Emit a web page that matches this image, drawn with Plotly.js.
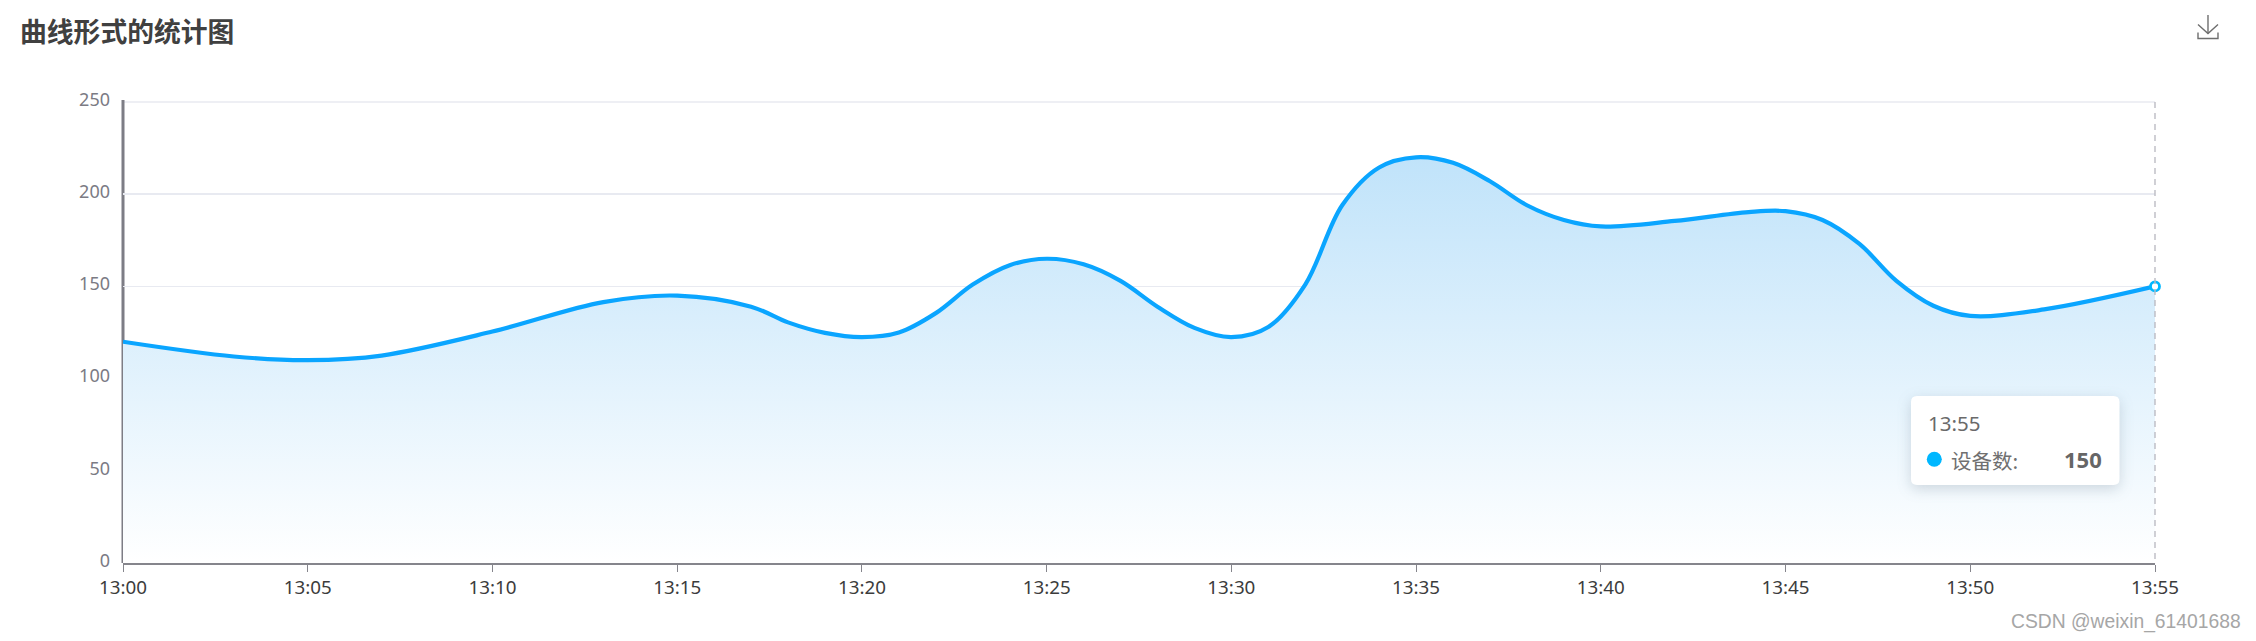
<!DOCTYPE html>
<html><head><meta charset="utf-8">
<script src="https://cdn.plot.ly/plotly-3.0.1.min.js"></script>
<style>html,body{margin:0;padding:0;background:#fff}#chart{width:2256px;height:641px}</style>
</head><body><div id="chart"></div>
<script>
const minutes = ["13:00","13:01","13:02","13:03","13:04","13:05","13:06","13:07","13:08","13:09","13:10","13:11","13:12","13:13","13:14","13:15","13:16","13:17","13:18","13:19","13:20","13:21","13:22","13:23","13:24","13:25","13:26","13:27","13:28","13:29","13:30","13:31","13:32","13:33","13:34","13:35","13:36","13:37","13:38","13:39","13:40","13:41","13:42","13:43","13:44","13:45","13:46","13:47","13:48","13:49","13:50","13:51","13:52","13:53","13:54","13:55"];
const readTimes = ["13:00","13:03","13:05","13:07","13:10","13:13","13:15","13:17","13:18","13:19","13:20","13:21","13:22","13:23","13:24","13:25","13:26","13:27","13:28","13:29","13:30","13:31","13:32","13:33","13:34","13:35","13:36","13:37","13:38","13:39","13:40","13:42","13:44","13:45","13:46","13:47","13:48","13:49","13:50","13:52","13:55"];
const devices = [120,112,110,112.5,125.5,141.5,145,139,130.5,124.8,122.5,125,135.5,151,161.5,165,162,153,139,127.5,122.5,128,151,194,214.5,220,217,207,194,186,182.5,185.5,190.3,190.8,186,173,153,139.5,134,137.5,150];
const xTicks = ["13:00","13:05","13:10","13:15","13:20","13:25","13:30","13:35","13:40","13:45","13:50","13:55"];
const yTicks = [0,50,100,150,200,250];
const chartTitle = "曲线形式的统计图";
const seriesName = "设备数:";
const hovered = {label:"13:55", value:150};
const watermark = "CSDN @weixin_61401688";

const W=2256,H=641,FONT='"Noto Sans","Noto Sans CJK SC",sans-serif';
const mL=123,mR=101,mT=102,mB=78;
const PW=W-mL-mR,PH=H-mT-mB;
const px=x=>(x-mL)/PW, py=y=>(H-mB-y)/PH;
const pathOf=pts=>pts.map((p,i)=>(i?'L':'M')+px(p[0]).toFixed(5)+','+py(p[1]).toFixed(5)).join(' ');
const paperLine={xref:'paper',yref:'paper',type:'path',layer:'above',line:{color:'#6e6e6e',width:1.4}};
const bx0=1911,bx1=2119.5,by0=396,by1=485,r=6;
function roundBox(){
  const kx=v=>px(v).toFixed(5),ky=v=>py(v).toFixed(5);
  return `M${kx(bx0+r)},${ky(by0)} L${kx(bx1-r)},${ky(by0)} Q${kx(bx1)},${ky(by0)} ${kx(bx1)},${ky(by0+r)} L${kx(bx1)},${ky(by1-r)} Q${kx(bx1)},${ky(by1)} ${kx(bx1-r)},${ky(by1)} L${kx(bx0+r)},${ky(by1)} Q${kx(bx0)},${ky(by1)} ${kx(bx0)},${ky(by1-r)} L${kx(bx0)},${ky(by0+r)} Q${kx(bx0)},${ky(by0)} ${kx(bx0+r)},${ky(by0)} Z`;
}
const lastIdx=minutes.length-1;
const traces=[
 {type:'scatter',mode:'lines',x:readTimes,y:devices,name:seriesName,
  line:{color:'#0aa5ff',width:4.2,shape:'spline',smoothing:1},
  fill:'tozeroy',fillgradient:{type:'vertical',start:0,stop:220,colorscale:[[0,'rgb(255,255,255)'],[1,'rgb(192,227,250)']]},
  hoverinfo:'skip',cliponaxis:false},
 {type:'scatter',mode:'markers',x:[hovered.label],y:[hovered.value],
  marker:{size:9,color:'#ffffff',line:{color:'#00b7ff',width:2.8}},hoverinfo:'skip',cliponaxis:false}
];
const layout={
 width:W,height:H,paper_bgcolor:'#fff',plot_bgcolor:'rgba(0,0,0,0)',showlegend:false,hovermode:false,
 margin:{l:mL,r:mR,t:mT,b:mB,pad:0},
 font:{family:FONT},
 xaxis:{type:'category',categoryorder:'array',categoryarray:minutes,range:[0,lastIdx],tickmode:'array',tickvals:xTicks,ticktext:xTicks,
  showgrid:false,zeroline:false,showline:true,linecolor:'#85858c',linewidth:1.5,ticks:'outside',ticklen:7,tickcolor:'#85858c',tickwidth:1,
  tickfont:{size:18.8,color:'#3c3c3c',family:FONT},tickangle:0,fixedrange:true},
 yaxis:{range:[0,250],tickmode:'array',tickvals:yTicks,showgrid:true,gridcolor:'#e8eaf1',gridwidth:1.5,zeroline:false,showline:false,ticks:'',
  ticklabelstandoff:12,tickfont:{size:18,color:'#7b7b84',family:FONT},fixedrange:true},
 shapes:[
  {type:'line',layer:'below',xref:'paper',yref:'paper',x0:0,x1:1,y0:1,y1:1,line:{color:'#e8eaf1',width:1.5}},
  {type:'line',layer:'below',xref:'paper',yref:'paper',x0:0,x1:0,y0:0,y1:py(100),line:{color:'#7d7d85',width:3}},
  {type:'line',layer:'above',xref:'paper',yref:'paper',x0:1,x1:1,y0:1,y1:0,line:{color:'#bcbcc4',width:1.4,dash:'6px,5px'}},
  {type:'path',layer:'above',xref:'paper',yref:'paper',path:roundBox(),fillcolor:'#ffffff',line:{width:0}},
  {type:'circle',layer:'above',xref:'paper',yref:'paper',x0:px(1926.8),x1:px(1941.8),y0:py(466.8),y1:py(451.8),fillcolor:'#00b7ff',line:{width:0}},
  Object.assign({},paperLine,{path:pathOf([[2208,15],[2208,33.5]])}),
  Object.assign({},paperLine,{path:pathOf([[2198,24.5],[2208,33.5],[2218,24.5]])}),
  Object.assign({},paperLine,{path:pathOf([[2198,32.5],[2198,38.5],[2218,38.5],[2218,32.5]])})
 ],
 annotations:[
  {xref:'paper',yref:'paper',x:px(18),y:py(30),xanchor:'left',yanchor:'middle',showarrow:false,text:'<b>'+chartTitle+'</b>',font:{size:26.8,color:'#404040',family:'"Noto Sans CJK SC",sans-serif'}},
  {xref:'paper',yref:'paper',x:px(1926),y:py(423),xanchor:'left',yanchor:'middle',showarrow:false,text:hovered.label,font:{size:20.5,color:'#6a6a6a',family:FONT}},
  {xref:'paper',yref:'paper',x:px(1949),y:py(459.5),xanchor:'left',yanchor:'middle',showarrow:false,text:seriesName,font:{size:20.5,color:'#707070',family:'"Noto Sans CJK SC",sans-serif'}},
  {xref:'paper',yref:'paper',x:px(2104),y:py(459),xanchor:'right',yanchor:'middle',showarrow:false,text:'<b>'+hovered.value+'</b>',font:{size:22,color:'#666666',family:FONT}},
  {xref:'paper',yref:'paper',x:px(2243),y:py(622),xanchor:'right',yanchor:'middle',showarrow:false,text:watermark,font:{size:19.3,color:'#a6a6a6',family:'"Liberation Sans",sans-serif'}}
 ]
};
Plotly.newPlot('chart',traces,layout,{displayModeBar:false,staticPlot:true}).then(gd=>{
  const box=[...gd.querySelectorAll('.shapelayer path')].find(p=>p.getAttribute('data-index')==='3');
  if(box) box.style.filter='drop-shadow(0 4px 7px rgba(70,90,110,0.22))';
  gd.querySelectorAll('.ytick text').forEach(t=>t.setAttribute('transform',(t.getAttribute('transform')||'')+' translate(0,-2.5)'));
});
</script></body></html>
